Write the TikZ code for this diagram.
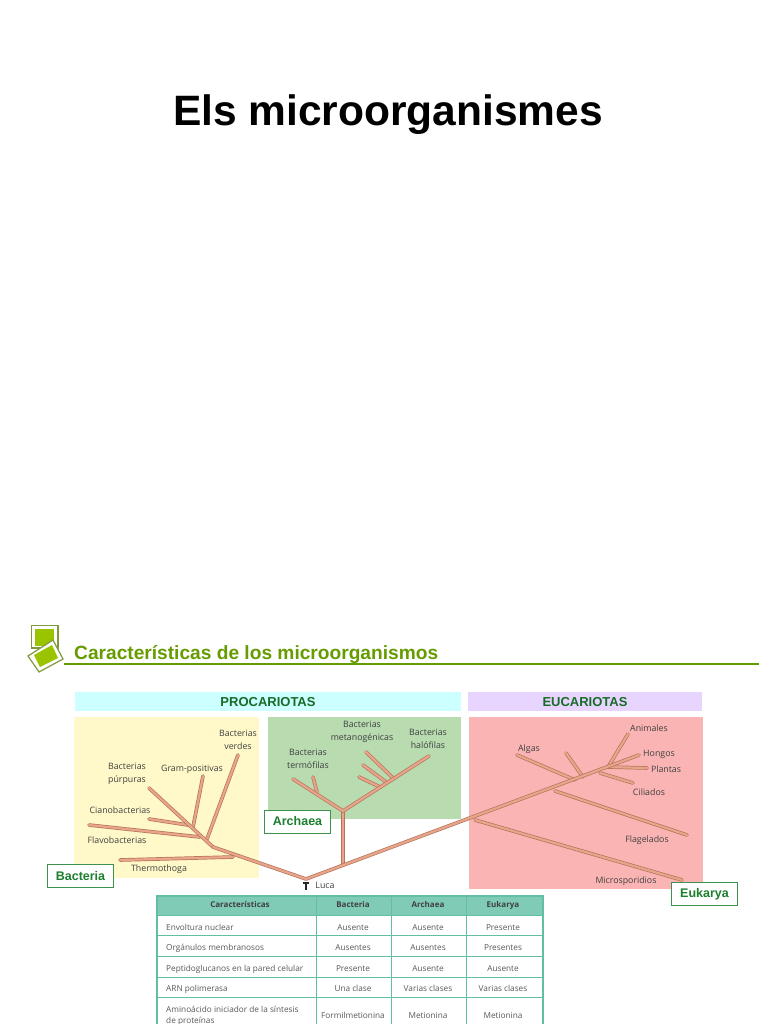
\documentclass[tikz,border=0pt]{standalone}
\usepackage{fontspec}
\setmainfont{Liberation Sans}
\newfontfamily\smallfont{Open Sans}
\usepackage{xcolor}
\usetikzlibrary{positioning}

\definecolor{branchedge}{HTML}{B5745A}
\definecolor{branchfill}{HTML}{E8A58C}
\definecolor{domaingreen}{HTML}{1B7F2E}
\definecolor{headgreen}{HTML}{669C00}
\definecolor{tealhead}{HTML}{80CBB6}
\definecolor{tealline}{HTML}{62BFA6}
\definecolor{iconedge}{HTML}{7E9A3C}
\definecolor{iconfill}{HTML}{9BC400}
\definecolor{procband}{HTML}{CCFFFF}
\definecolor{eucband}{HTML}{E8D5FF}
\definecolor{bactpanel}{HTML}{FFF8C8}
\definecolor{archpanel}{HTML}{B8DBB0}
\definecolor{eukpanel}{HTML}{FBB4B4}

\begin{document}
\begin{tikzpicture}[
    x=1pt, y=-1pt,
    bandtitle/.style={font=\bfseries\fontsize{13}{15}\selectfont, text=domaingreen!85!black},
    domainbox/.style={draw=domaingreen!85, line width=1pt, fill=white, font=\bfseries\fontsize{12.5}{14}\selectfont, text=domaingreen, minimum width=66pt, minimum height=23pt, inner sep=0pt},
    taxon/.style={font=\smallfont\fontsize{8.8}{12.6}\selectfont, text=black!75, align=center, inner sep=0pt, yshift=-1pt},
    branch/.style={draw=branchedge, double=branchfill, double distance=2.2pt, line width=0.7pt, line cap=round, line join=round},
    cell/.style={font=\smallfont\fontsize{8.25}{11.5}\selectfont, text=black!65, inner sep=0pt, align=left, yshift=-1pt},
    rowcell/.style={cell, text height=6pt, text depth=2pt},
    headcell/.style={font=\smallfont\bfseries\fontsize{8}{10}\selectfont, text=black!75, inner sep=0pt, text height=6pt, text depth=2pt},
]
\useasboundingbox (0,0) rectangle (768,1024);
\fill[white] (0,0) rectangle (768,1024);

% Title
\node[anchor=base, font=\bfseries\fontsize{42.5}{48}\selectfont] (title) at (388,126) {Els microorganismes};

% Icon
\draw[draw=iconedge, fill=white, line width=1.2pt] (31.5,625.5) rectangle (58,648);
\fill[iconfill] (35,629) rectangle (54,646);
\draw[draw=iconedge, fill=white, line width=1.2pt] (28,656) -- (53,640) -- (63,659) -- (39,672) -- cycle;
\fill[iconfill] (34,655) -- (52,645) -- (58,658) -- (40,667) -- cycle;

% Section heading
\node[anchor=base west, inner sep=0pt, font=\bfseries\fontsize{19.15}{22}\selectfont, text=headgreen] (heading) at (74,659) {Características de los microorganismos};
\draw[headgreen, line width=2pt] (64,663.5) -- (759,663.5);

% Bands and panels
\fill[procband] (75,692) rectangle (461,711);
\fill[eucband] (468,692) rectangle (702,711);
\fill[bactpanel] (74,717) rectangle (259,878);
\fill[archpanel] (268,717) rectangle (461,819);
\fill[eukpanel] (469,717) rectangle (703,889);
\node[bandtitle] (procariotas) at (268,702) {PROCARIOTAS};
\node[bandtitle] (eucariotas) at (585,702) {EUCARIOTAS};

% Tree joints
\foreach \name/\x/\y in {
    luca/306/879, bjoint/213/847, bthermo/233/857, bthermotip/120/860,
    bverdes/207/839, bverdestip/238/755, bgram/193/827, bgramtip/203/776,
    bpurptip/149/788, bciano/188/825, bcianotip/149/819, bflavo/200/837, bflavotip/89/825,
    atrunk/343/864, ajoint/343/811, atermotip/293/779, ahalotip/429/756,
    aterm/317/792, atermsmall/313/777, ameta1/393/778, ameta1tip/366/752,
    ameta2/386/782, ameta2tip/363/765, ameta3/380/787, ameta3tip/359/777,
    emicro/475/820, emicrotip/682/880, eflag/555/791, eflagtip/687/835,
    ecrown/608/767, ehongostip/639/755, eanimtip/628/734, eplanttip/647/768,
    ealgas/575/780, ealgastip/517/755, esmall/583/777, esmalltip/566/753,
    ecil/600/773, eciltip/633/783} {
    \coordinate (\name) at (\x,\y);
}

% Side branches
\foreach \from/\to in {
    bthermo/bthermotip, bverdes/bverdestip, bgram/bgramtip, bciano/bcianotip,
    bflavo/bflavotip, bjoint/bpurptip,
    aterm/atermsmall, ameta1/ameta1tip, ameta2/ameta2tip, ameta3/ameta3tip,
    emicro/emicrotip, eflag/eflagtip, ealgas/ealgastip, esmall/esmalltip,
    ecil/eciltip, ecrown/eanimtip, ecrown/eplanttip} {
    \draw[branch] (\from) -- (\to);
}
\draw[branch] (atrunk) -- (ajoint);
\draw[branch] (atermotip) -- (ajoint) -- (ahalotip);
% Main line
\draw[branch] (bjoint) -- (luca) -- (ehongostip);

% Luca mark
\draw[line width=2pt, black!85] (306,882) -- (306,889.5);
\draw[line width=2pt, black!85] (303,882.5) -- (309,882.5);

% Taxon labels
\foreach \name/\x/\y/\txt in {
    verdes/238/739/{Bacterias\\verdes}, gram/192/768/{Gram-positivas},
    purpuras/127/773/{Bacterias\\púrpuras}, ciano/120/809/{Cianobacterias},
    flavo/117/839/{Flavobacterias}, thermo/159/868/{Thermothoga},
    termo/308/758/{Bacterias\\termófilas}, metano/362/731/{Bacterias\\metanogénicas},
    halo/428/738/{Bacterias\\halófilas}, lucatxt/325/884/{Luca},
    animales/649/727/{Animales}, hongos/659/753/{Hongos}, plantas/666/768/{Plantas},
    ciliados/649/791/{Ciliados}, algas/529/748/{Algas},
    flagelados/647/839/{Flagelados}, micro/626/880/{Microsporidios}} {
    \node[taxon] (\name) at (\x,\y) {\txt};
}

% Domain labels
\node[domainbox] (bacteria) at (80.5,876) {Bacteria};
\node[domainbox] (archaea) at (297.5,821.5) {Archaea};
\node[domainbox] (eukarya) at (704.5,894) {Eukarya};

% Table
\fill[tealhead] (157,896) rectangle (543,915);
\draw[tealline, line width=1.2pt] (157,1030) -- (157,896) -- (543,896) -- (543,1030);
\foreach \y in {915,935,956,977,997} {
    \draw[tealline, line width=0.9pt] (157,\y) -- (543,\y);
}
\foreach \x in {316,391,466} {
    \draw[tealline, line width=0.9pt] (\x,896) -- (\x,1030);
}
\node[headcell] (caract) at (240,905) {Características};
\foreach \name/\x/\txt in {hbact/353/Bacteria, harch/428/Archaea, heuk/503/Eukarya} {
    \node[headcell] (\name) at (\x,905) {\txt};
}
\foreach \row/\y/\first/\b/\a/\e in {
    r1/927/Envoltura nuclear/Ausente/Ausente/Presente,
    r2/947.5/Orgánulos membranosos/Ausentes/Ausentes/Presentes,
    r3/968/Peptidoglucanos en la pared celular/Presente/Ausente/Ausente,
    r4/988/ARN polimerasa/Una clase/Varias clases/Varias clases} {
    \node[rowcell, anchor=west] (\row c) at (166,\y) {\first};
    \node[rowcell] (\row b) at (353,\y) {\b};
    \node[rowcell] (\row a) at (428,\y) {\a};
    \node[rowcell] (\row e) at (503,\y) {\e};
}
\node[cell, anchor=west] (r5c) at (166,1015) {Aminoácido iniciador de la síntesis\\de proteínas};
\node[rowcell] (r5b) at (353,1015) {Formilmetionina};
\node[rowcell] (r5a) at (428,1015) {Metionina};
\node[rowcell] (r5e) at (503,1015) {Metionina};

\end{tikzpicture}
\end{document}
